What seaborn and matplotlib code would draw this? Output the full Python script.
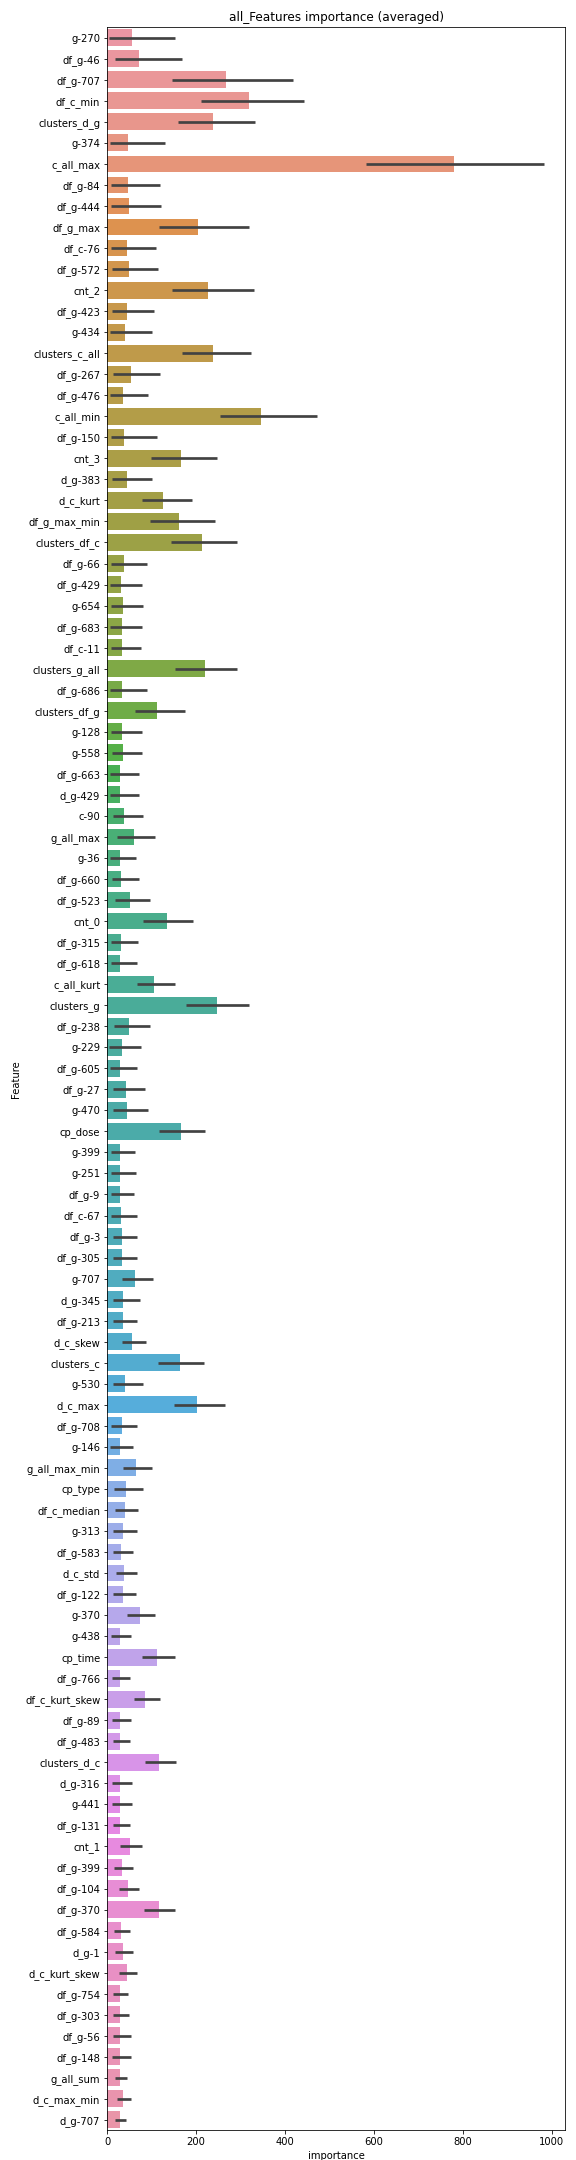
import matplotlib
matplotlib.use("Agg")
import matplotlib.pyplot as plt
import seaborn as sns
import numpy as np
import pandas as pd

features = [
    "g-270", "df_g-46", "df_g-707", "df_c_min", "clusters_d_g", "g-374", "c_all_max",
    "df_g-84", "df_g-444", "df_g_max", "df_c-76", "df_g-572", "cnt_2", "df_g-423",
    "g-434", "clusters_c_all", "df_g-267", "df_g-476", "c_all_min", "df_g-150", "cnt_3",
    "d_g-383", "d_c_kurt", "df_g_max_min", "clusters_df_c", "df_g-66", "df_g-429",
    "g-654", "df_g-683", "df_c-11", "clusters_g_all", "df_g-686", "clusters_df_g",
    "g-128", "g-558", "df_g-663", "d_g-429", "c-90", "g_all_max", "g-36", "df_g-660",
    "df_g-523", "cnt_0", "df_g-315", "df_g-618", "c_all_kurt", "clusters_g", "df_g-238",
    "g-229", "df_g-605", "df_g-27", "g-470", "cp_dose", "g-399", "g-251", "df_g-9",
    "df_c-67", "df_g-3", "df_g-305", "g-707", "d_g-345", "df_g-213", "d_c_skew",
    "clusters_c", "g-530", "d_c_max", "df_g-708", "g-146", "g_all_max_min", "cp_type",
    "df_c_median", "g-313", "df_g-583", "d_c_std", "df_g-122", "g-370", "g-438",
    "cp_time", "df_g-766", "df_c_kurt_skew", "df_g-89", "df_g-483", "clusters_d_c",
    "d_g-316", "g-441", "df_g-131", "cnt_1", "df_g-399", "df_g-104", "df_g-370",
    "df_g-584", "d_g-1", "d_c_kurt_skew", "df_g-754", "df_g-303", "df_g-56", "df_g-148",
    "g_all_sum", "d_c_max_min", "d_g-707",
]

importance = [
    55.5, 70.5, 267, 319, 238, 46.5, 780,
    46.5, 49, 204, 44, 49, 227, 44,
    40, 238, 53, 35, 346, 37.5, 166,
    44, 125, 161, 213, 37.5, 31,
    35, 33, 33, 220, 33, 112,
    33, 35, 28.5, 28.5, 37.5, 60, 28.5, 31,
    51, 134, 31, 28.5, 105, 247, 49,
    33, 28.5, 42, 44, 166, 28.5, 28.5, 28.5,
    31, 33, 33, 62, 35, 35, 55.5,
    164, 40, 202, 33, 28.5, 64.5, 42,
    40, 35, 31, 37.5, 35, 73.5, 28.5,
    112, 28.5, 85, 28.5, 28.5, 116,
    28.5, 28.5, 28.5, 51, 33, 46.5, 116,
    31, 35, 44, 28.5, 28.5, 28.5, 29,
    29, 35.6, 29,
]

err_low = [
    4.5, 18, 146, 212, 160, 7, 583,
    9, 9, 117, 9, 11, 146, 11,
    7, 167, 13.5, 7, 254, 9, 99,
    11, 79, 97, 144, 9, 7,
    9, 7, 9, 153, 7, 63,
    9, 11, 7, 7, 13.5, 22.5, 7, 11,
    18, 81, 9, 9, 67.5, 177, 16,
    4.5, 7, 13.5, 13.5, 117, 9, 9, 9,
    9, 13.5, 13.5, 34, 13.5, 13.5, 34,
    115, 13.5, 151, 9, 7, 36, 16,
    18, 13.5, 13.5, 20, 13.5, 45, 9,
    79, 11, 61, 11, 13.5, 85.5,
    11, 11, 13.5, 29, 16, 27, 83,
    16, 18, 27, 13.5, 13.5, 13.5, 11.6,
    16.5, 22, 16.5,
]

err_high = [
    151.5, 167, 419, 442, 332, 129, 982,
    118, 120, 320, 109, 113, 330, 104,
    100, 323, 118, 91, 471, 111, 248,
    100, 190, 242, 291, 88.5, 77,
    80, 77, 75, 291, 88.5, 174,
    77, 77, 70.5, 70.5, 80, 106.5, 64, 70.5,
    95, 194, 68, 66, 151.5, 320, 95,
    75, 66, 84, 91, 219, 61.5, 64, 59,
    66, 66, 66, 102, 73, 66, 86,
    217, 80, 264, 66, 57, 100, 80,
    68, 66, 57, 66, 64, 106.5, 52.5,
    151.5, 50, 118, 52.5, 50, 154,
    55, 55, 50, 77, 57, 70.5, 151.5,
    50, 57, 66, 46, 48, 52.5, 53,
    44, 53, 41,
]

df = pd.DataFrame({"Feature": features, "importance": importance,
                   "lo": err_low, "hi": err_high})

fig = plt.figure(figsize=(8, 30), dpi=72)
ax = fig.add_axes([0.1863, 0.0137, 0.9816 - 0.1863, 0.9874 - 0.0137])

palette = [sns.desaturate(c, 0.75) for c in sns.husl_palette(len(features), l=.7)]
sns.barplot(data=df, x="importance", y="Feature", hue="Feature", order=features,
            hue_order=features, palette=palette, legend=False, errorbar=None,
            saturation=1, ax=ax)

ypos = np.arange(len(features))
imp = df["importance"].to_numpy()
xerr = np.vstack([imp - df["lo"].to_numpy(), df["hi"].to_numpy() - imp])
ax.errorbar(imp, ypos, xerr=xerr, fmt="none", ecolor="0.26", elinewidth=2.7,
            capsize=0, zorder=3)

ax.set_xlim(0, max(err_high) * 1.05)
ax.set_ylim(len(features) - 0.5, -0.5)
ax.set_title("all_Features importance (averaged)")
ax.set_xlabel("importance")
ax.set_ylabel("Feature")

fig.savefig("out.png", dpi=72)
